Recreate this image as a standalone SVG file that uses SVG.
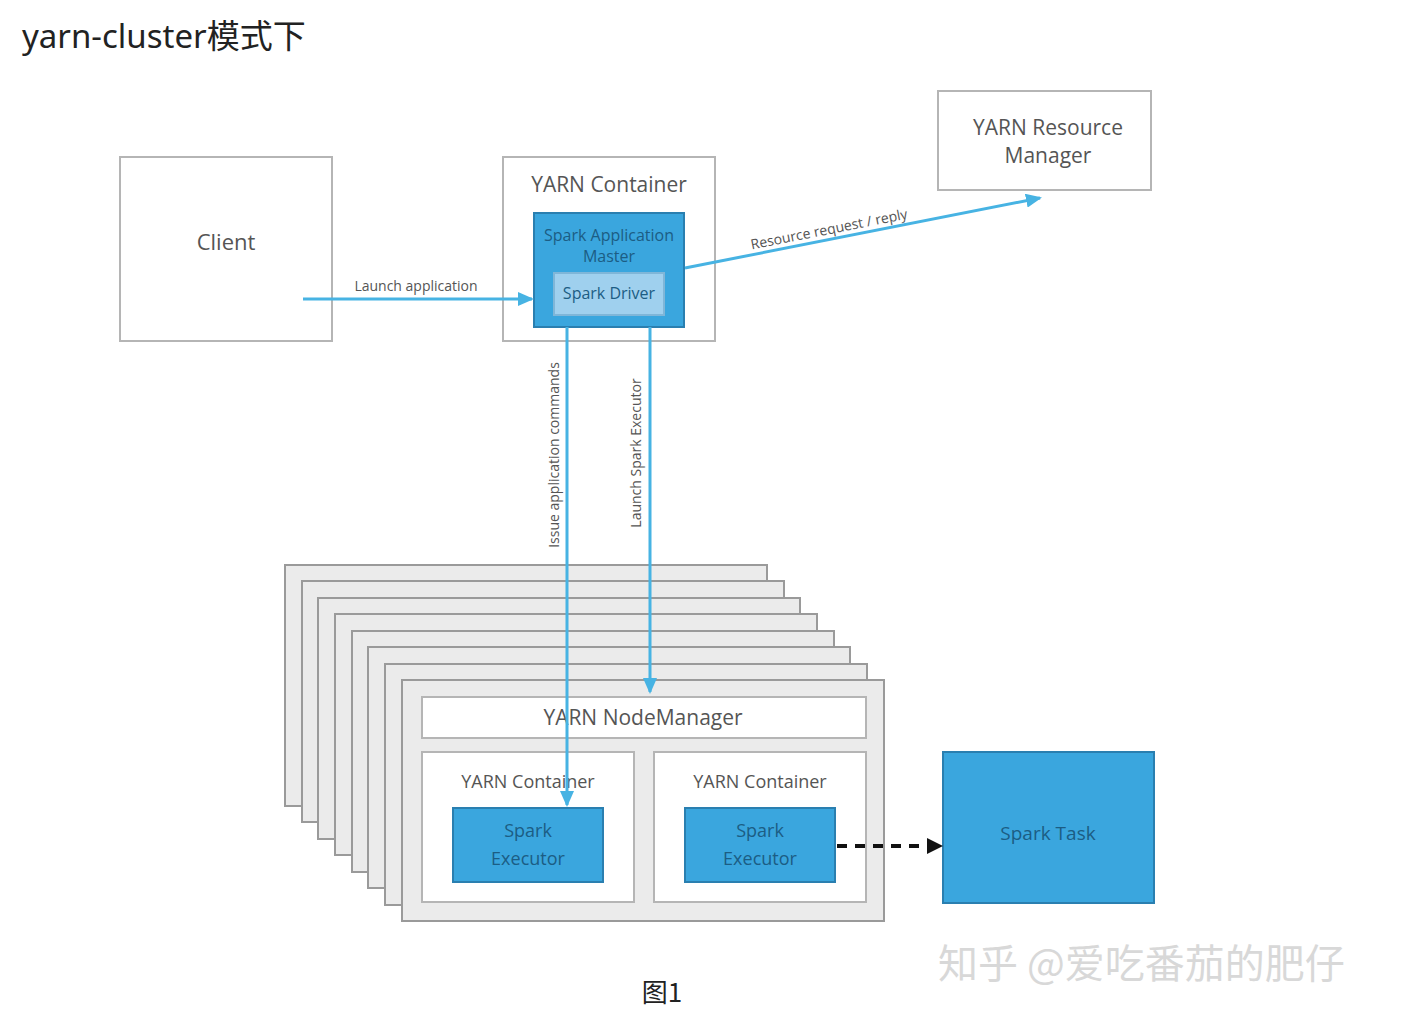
<svg xmlns="http://www.w3.org/2000/svg" width="1402" height="1022" viewBox="0 0 1402 1022">
<defs>
<style>
.box{fill:#fff;stroke:#b5b5b5;stroke-width:2}
.stk{fill:#ebebeb;stroke:#9a9a9a;stroke-width:2}
.blue{fill:#3aa6de;stroke:#2a7fb0;stroke-width:2}
.lt{fill:#9fd0ee;stroke:#7fb6d8;stroke-width:2}
.t{font-family:"Open Sans","Liberation Sans",sans-serif;fill:#555;text-anchor:middle}
.bt{font-family:"Open Sans","Liberation Sans",sans-serif;fill:#1c5d84;text-anchor:middle}
.c{stroke:#47b3e3;stroke-width:3;fill:none}
</style>
<marker id="a" markerWidth="16" markerHeight="14" refX="14" refY="7" orient="auto" markerUnits="userSpaceOnUse" viewBox="0 0 16 14"><path d="M0,0L16,7L0,14z" fill="#47b3e3"/></marker>
<marker id="k" markerWidth="16" markerHeight="16" refX="14" refY="8" orient="auto" markerUnits="userSpaceOnUse" viewBox="0 0 16 16"><path d="M0,0L16,8L0,16z" fill="#111"/></marker>
</defs>
<rect width="1402" height="1022" fill="#fff"/>
<text x="22" y="48" font-family="'Noto Sans','Noto Sans CJK SC',sans-serif" font-size="33" fill="#222">yarn-cluster模式下</text>
<g id="client"><rect class="box" x="120" y="157" width="212" height="184"/><text class="t" x="226" y="250" font-size="22">Client</text></g>
<g id="rm"><rect class="box" x="938" y="91" width="213" height="99"/><text class="t" x="1048" y="135" font-size="21">YARN Resource</text><text class="t" x="1048" y="163" font-size="21">Manager</text></g>
<g id="container"><rect class="box" x="503" y="157" width="212" height="184"/><text class="t" x="609" y="192" font-size="21">YARN Container</text>
<rect class="blue" x="534" y="213" width="150" height="114"/><text class="bt" x="609" y="241" font-size="16">Spark Application</text><text class="bt" x="609" y="262" font-size="16">Master</text>
<rect class="lt" x="554" y="273" width="110" height="42"/><text class="bt" x="609" y="299" font-size="16">Spark Driver</text></g>
<g id="nodes">
<rect class="stk" x="285" y="565" width="482" height="241"/>
<rect class="stk" x="302" y="581" width="482" height="241"/>
<rect class="stk" x="318" y="598" width="482" height="241"/>
<rect class="stk" x="335" y="614" width="482" height="241"/>
<rect class="stk" x="352" y="631" width="482" height="241"/>
<rect class="stk" x="368" y="647" width="482" height="241"/>
<rect class="stk" x="385" y="664" width="482" height="241"/>
<rect class="stk" x="402" y="680" width="482" height="241"/>
<rect class="box" x="422" y="697" width="444" height="41"/><text class="t" x="643" y="725" font-size="21">YARN NodeManager</text>
<rect class="box" x="422" y="752" width="212" height="150"/><text class="t" x="528" y="788" font-size="18">YARN Container</text>
<rect class="blue" x="453" y="808" width="150" height="74"/><text class="bt" x="528" y="837" font-size="18">Spark</text><text class="bt" x="528" y="865" font-size="18">Executor</text>
<rect class="box" x="654" y="752" width="212" height="150"/><text class="t" x="760" y="788" font-size="18">YARN Container</text>
<rect class="blue" x="685" y="808" width="150" height="74"/><text class="bt" x="760" y="837" font-size="18">Spark</text><text class="bt" x="760" y="865" font-size="18">Executor</text>
</g>
<g id="task"><rect class="blue" x="943" y="752" width="211" height="151"/><text class="bt" x="1048" y="840" font-size="19">Spark Task</text></g>
<g id="connectors">
<line class="c" x1="303" y1="299" x2="532" y2="299" marker-end="url(#a)"/>
<text class="t" x="416" y="291" font-size="14" fill="#333">Launch application</text>
<line class="c" x1="685" y1="268" x2="1040" y2="198" marker-end="url(#a)"/>
<text class="t" x="830" y="234" font-size="14" transform="rotate(-11.2 830 234)">Resource request / reply</text>
<line class="c" x1="567" y1="327" x2="567" y2="805" marker-end="url(#a)"/>
<text class="t" x="0" y="0" font-size="14" transform="translate(559 455) rotate(-90)">Issue application commands</text>
<line class="c" x1="650" y1="327" x2="650" y2="692" marker-end="url(#a)"/>
<text class="t" x="0" y="0" font-size="14" transform="translate(641 453) rotate(-90)">Launch Spark Executor</text>
<line x1="837" y1="846" x2="941" y2="846" stroke="#111" stroke-width="4" stroke-dasharray="10 8" marker-end="url(#k)"/>
</g>
<text x="938" y="978" font-family="'Noto Sans CJK SC',sans-serif" font-size="40" fill="#d8d8d8">知乎 @爱吃番茄的肥仔</text>
<text x="662" y="1002" font-family="'Noto Sans CJK SC',sans-serif" font-size="26" fill="#222" text-anchor="middle">图1</text>
</svg>
